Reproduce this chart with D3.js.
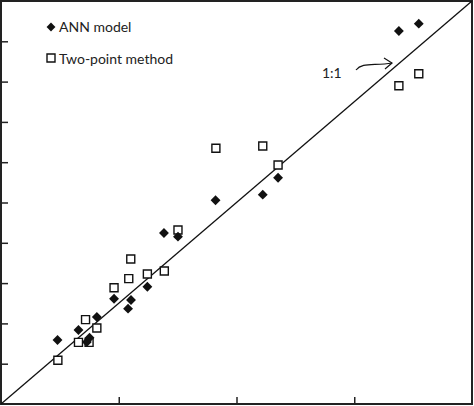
<!DOCTYPE html>
<html><head><meta charset="utf-8">
<script src="https://cdn.jsdelivr.net/npm/d3@7"></script>
<style>body{margin:0;background:#fff}</style>
</head><body><div id="chart"></div>
<script>
const annX = [48, 65.8, 72.9, 75.2, 81.4, 96, 107.9, 110.4, 124.3, 138.4, 150.3, 182.2, 222.3, 235.3, 337.9, 354.8];
const annY = [63.5, 73.5, 61.5, 65.8, 86.4, 104.5, 94.6, 103.2, 116.4, 169.7, 166.1, 202.2, 207.8, 224.6, 370.2, 377.5];
const twoX = [48.3, 65.8, 74.8, 71.8, 81.4, 96, 108.5, 110.2, 124.3, 138.7, 150.3, 182.5, 222.3, 235.3, 337.9, 354.8];
const twoY = [43.4, 61.2, 61.2, 83.7, 75.4, 115.4, 124.4, 143.9, 129, 132, 172.7, 253.8, 256.1, 237.2, 315.9, 327.8];
const xTicks = [100, 200, 300];
const yTicks = [40, 80, 120, 160, 200, 240, 280, 320, 360];

const W = 474, H = 406;
const m = {top: 1, right: 2, bottom: 2, left: 1};
const svg = d3.select('#chart').append('svg').attr('width', W).attr('height', H);
const x = d3.scaleLinear().domain([0, 400]).range([m.left, W - m.right]);
const y = d3.scaleLinear().domain([0, 400]).range([H - m.bottom, m.top]);

svg.append('g').attr('transform', `translate(0,${H - m.bottom})`)
   .call(d3.axisTop(x).tickValues(xTicks).tickFormat('').tickSize(7).tickSizeOuter(0))
   .call(g => g.select('.domain').remove())
   .selectAll('line').attr('stroke', '#222').attr('stroke-width', 1.5);
svg.append('g').attr('transform', `translate(${m.left},0)`)
   .call(d3.axisRight(y).tickValues(yTicks).tickFormat('').tickSize(7).tickSizeOuter(0))
   .call(g => g.select('.domain').remove())
   .selectAll('line').attr('stroke', '#222').attr('stroke-width', 1.5);

// frame
svg.append('rect').attr('x', m.left).attr('y', m.top)
   .attr('width', W - m.left - m.right).attr('height', H - m.top - m.bottom)
   .attr('fill', 'none').attr('stroke', '#222').attr('stroke-width', 2);

// 1:1 line
svg.append('line').attr('x1', x(0)).attr('y1', y(0)).attr('x2', x(400)).attr('y2', y(400))
   .attr('stroke', '#111').attr('stroke-width', 1.3);

const diamond = d3.symbol().type(d3.symbolDiamond2).size(62)();
const square = d3.symbol().type(d3.symbolSquare).size(64)();

svg.selectAll('.two').data(twoX).join('path').attr('class', 'two')
   .attr('d', square).attr('transform', (d, i) => `translate(${x(d)},${y(twoY[i])})`)
   .attr('fill', '#fff').attr('stroke', '#111').attr('stroke-width', 1.4);
svg.selectAll('.ann').data(annX).join('path').attr('class', 'ann')
   .attr('d', diamond).attr('transform', (d, i) => `translate(${x(d)},${y(annY[i])})`)
   .attr('fill', '#111');

// legend
const lg = svg.append('g').style('font-family', 'Lato, "Open Sans", sans-serif').style('font-size', '14px').attr('fill', '#222');
lg.append('path').attr('d', d3.symbol().type(d3.symbolDiamond2).size(50)()).attr('transform', 'translate(51,27)').attr('fill', '#111');
lg.append('text').attr('x', 59).attr('y', 32).text('ANN model');
lg.append('path').attr('d', square).attr('transform', 'translate(51,58)').attr('fill', '#fff').attr('stroke', '#111').attr('stroke-width', 1.4);
lg.append('text').attr('x', 59).attr('y', 64).text('Two-point method');

// 1:1 label with arrow
lg.append('text').attr('x', 322).attr('y', 78).text('1:1');
svg.append('path').attr('d', 'M356,70 C362,62 374,66 392,63').attr('fill', 'none').attr('stroke', '#111').attr('stroke-width', 1.2);
svg.append('path').attr('d', 'M384,58 L392,63 L385,69').attr('fill', 'none').attr('stroke', '#111').attr('stroke-width', 1.2);
</script></body></html>
